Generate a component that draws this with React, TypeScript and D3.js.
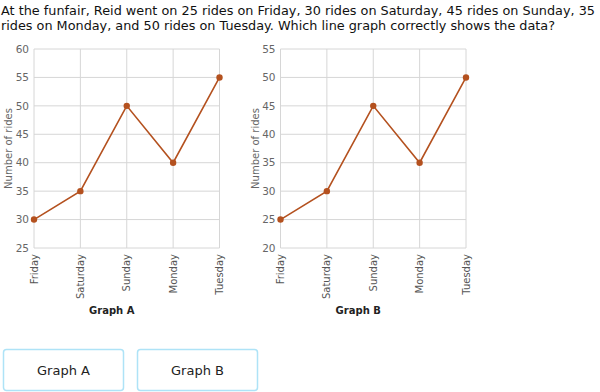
import * as d3 from 'd3';

const days = ['Friday', 'Saturday', 'Sunday', 'Monday', 'Tuesday'];
const ridesA = [30, 35, 50, 40, 55];
const ridesB = [25, 30, 45, 35, 50];
const ticksA = [25, 30, 35, 40, 45, 50, 55, 60];
const ticksB = [20, 25, 30, 35, 40, 45, 50, 55];

const font = "'DejaVu Sans', Verdana, sans-serif";
const lineColor = '#b4511f';

function Graph({left, values, ticks, title}) {
  const top = 49;
  const height = 199;
  const width = 185.5;
  const x = d3.scalePoint().domain(days).range([0, width]);
  const y = d3
    .scaleLinear()
    .domain([ticks[0], ticks[ticks.length - 1]])
    .range([height, 0]);
  const line = d3
    .line()
    .x((d, i) => x(days[i]))
    .y(d => y(d));

  return (
    <g transform={`translate(${left}, ${top})`} fontFamily={font}>
      {ticks.map(t => (
        <g key={t}>
          <line x1={0} x2={width} y1={y(t)} y2={y(t)} stroke="#d6d6d6" />
          <text
            x={-5}
            y={y(t)}
            dy="0.35em"
            textAnchor="end"
            fontSize={10.5}
            fill="#666">
            {t}
          </text>
        </g>
      ))}
      {days.map(d => (
        <g key={d}>
          <line x1={x(d)} x2={x(d)} y1={0} y2={height} stroke="#d6d6d6" />
          <text
            transform={`translate(${x(d)}, ${height + 6}) rotate(-90)`}
            dy="0.35em"
            textAnchor="end"
            fontSize={10}
            fill="#555">
            {d}
          </text>
        </g>
      ))}
      <text
        transform={`translate(-22, ${height / 2}) rotate(-90)`}
        textAnchor="middle"
        fontSize={10}
        fill="#666">
        Number of rides
      </text>
      <path d={line(values)} fill="none" stroke={lineColor} strokeWidth={1.6} />
      {values.map((v, i) => (
        <circle key={i} cx={x(days[i])} cy={y(v)} r={3.2} fill={lineColor} />
      ))}
      <text
        x={width / 2 - 15}
        y={height + 66}
        textAnchor="middle"
        fontSize={10}
        fontWeight="bold"
        fill="#222">
        {title}
      </text>
    </g>
  );
}

function Button({x, label}) {
  return (
    <g>
      <rect
        x={x + 0.5}
        y={349.5}
        width={120}
        height={41}
        rx={3}
        fill="#fff"
        stroke="#aee3f7"
        strokeWidth={1.5}
      />
      <text
        x={x + 60.5}
        y={370}
        dy="0.35em"
        textAnchor="middle"
        fontFamily={font}
        fontSize={13}
        fill="#222">
        {label}
      </text>
    </g>
  );
}

export default function App() {
  return (
    <svg
      width={600}
      height={392}
      style={{position: 'absolute', left: 0, top: 0, background: '#fff'}}>
      <text fontFamily={font} fontSize={12.5} fill="#111">
        <tspan x={1} y={15} textLength={594} lengthAdjust="spacingAndGlyphs">
          At the funfair, Reid went on 25 rides on Friday, 30 rides on Saturday, 45 rides on Sunday, 35
        </tspan>
        <tspan x={1} y={30} textLength={554} lengthAdjust="spacingAndGlyphs">
          rides on Monday, and 50 rides on Tuesday. Which line graph correctly shows the data?
        </tspan>
      </text>
      <Graph left={34} values={ridesA} ticks={ticksA} title="Graph A" />
      <Graph left={280.5} values={ridesB} ticks={ticksB} title="Graph B" />
      <Button x={3} label="Graph A" />
      <Button x={137} label="Graph B" />
    </svg>
  );
}
